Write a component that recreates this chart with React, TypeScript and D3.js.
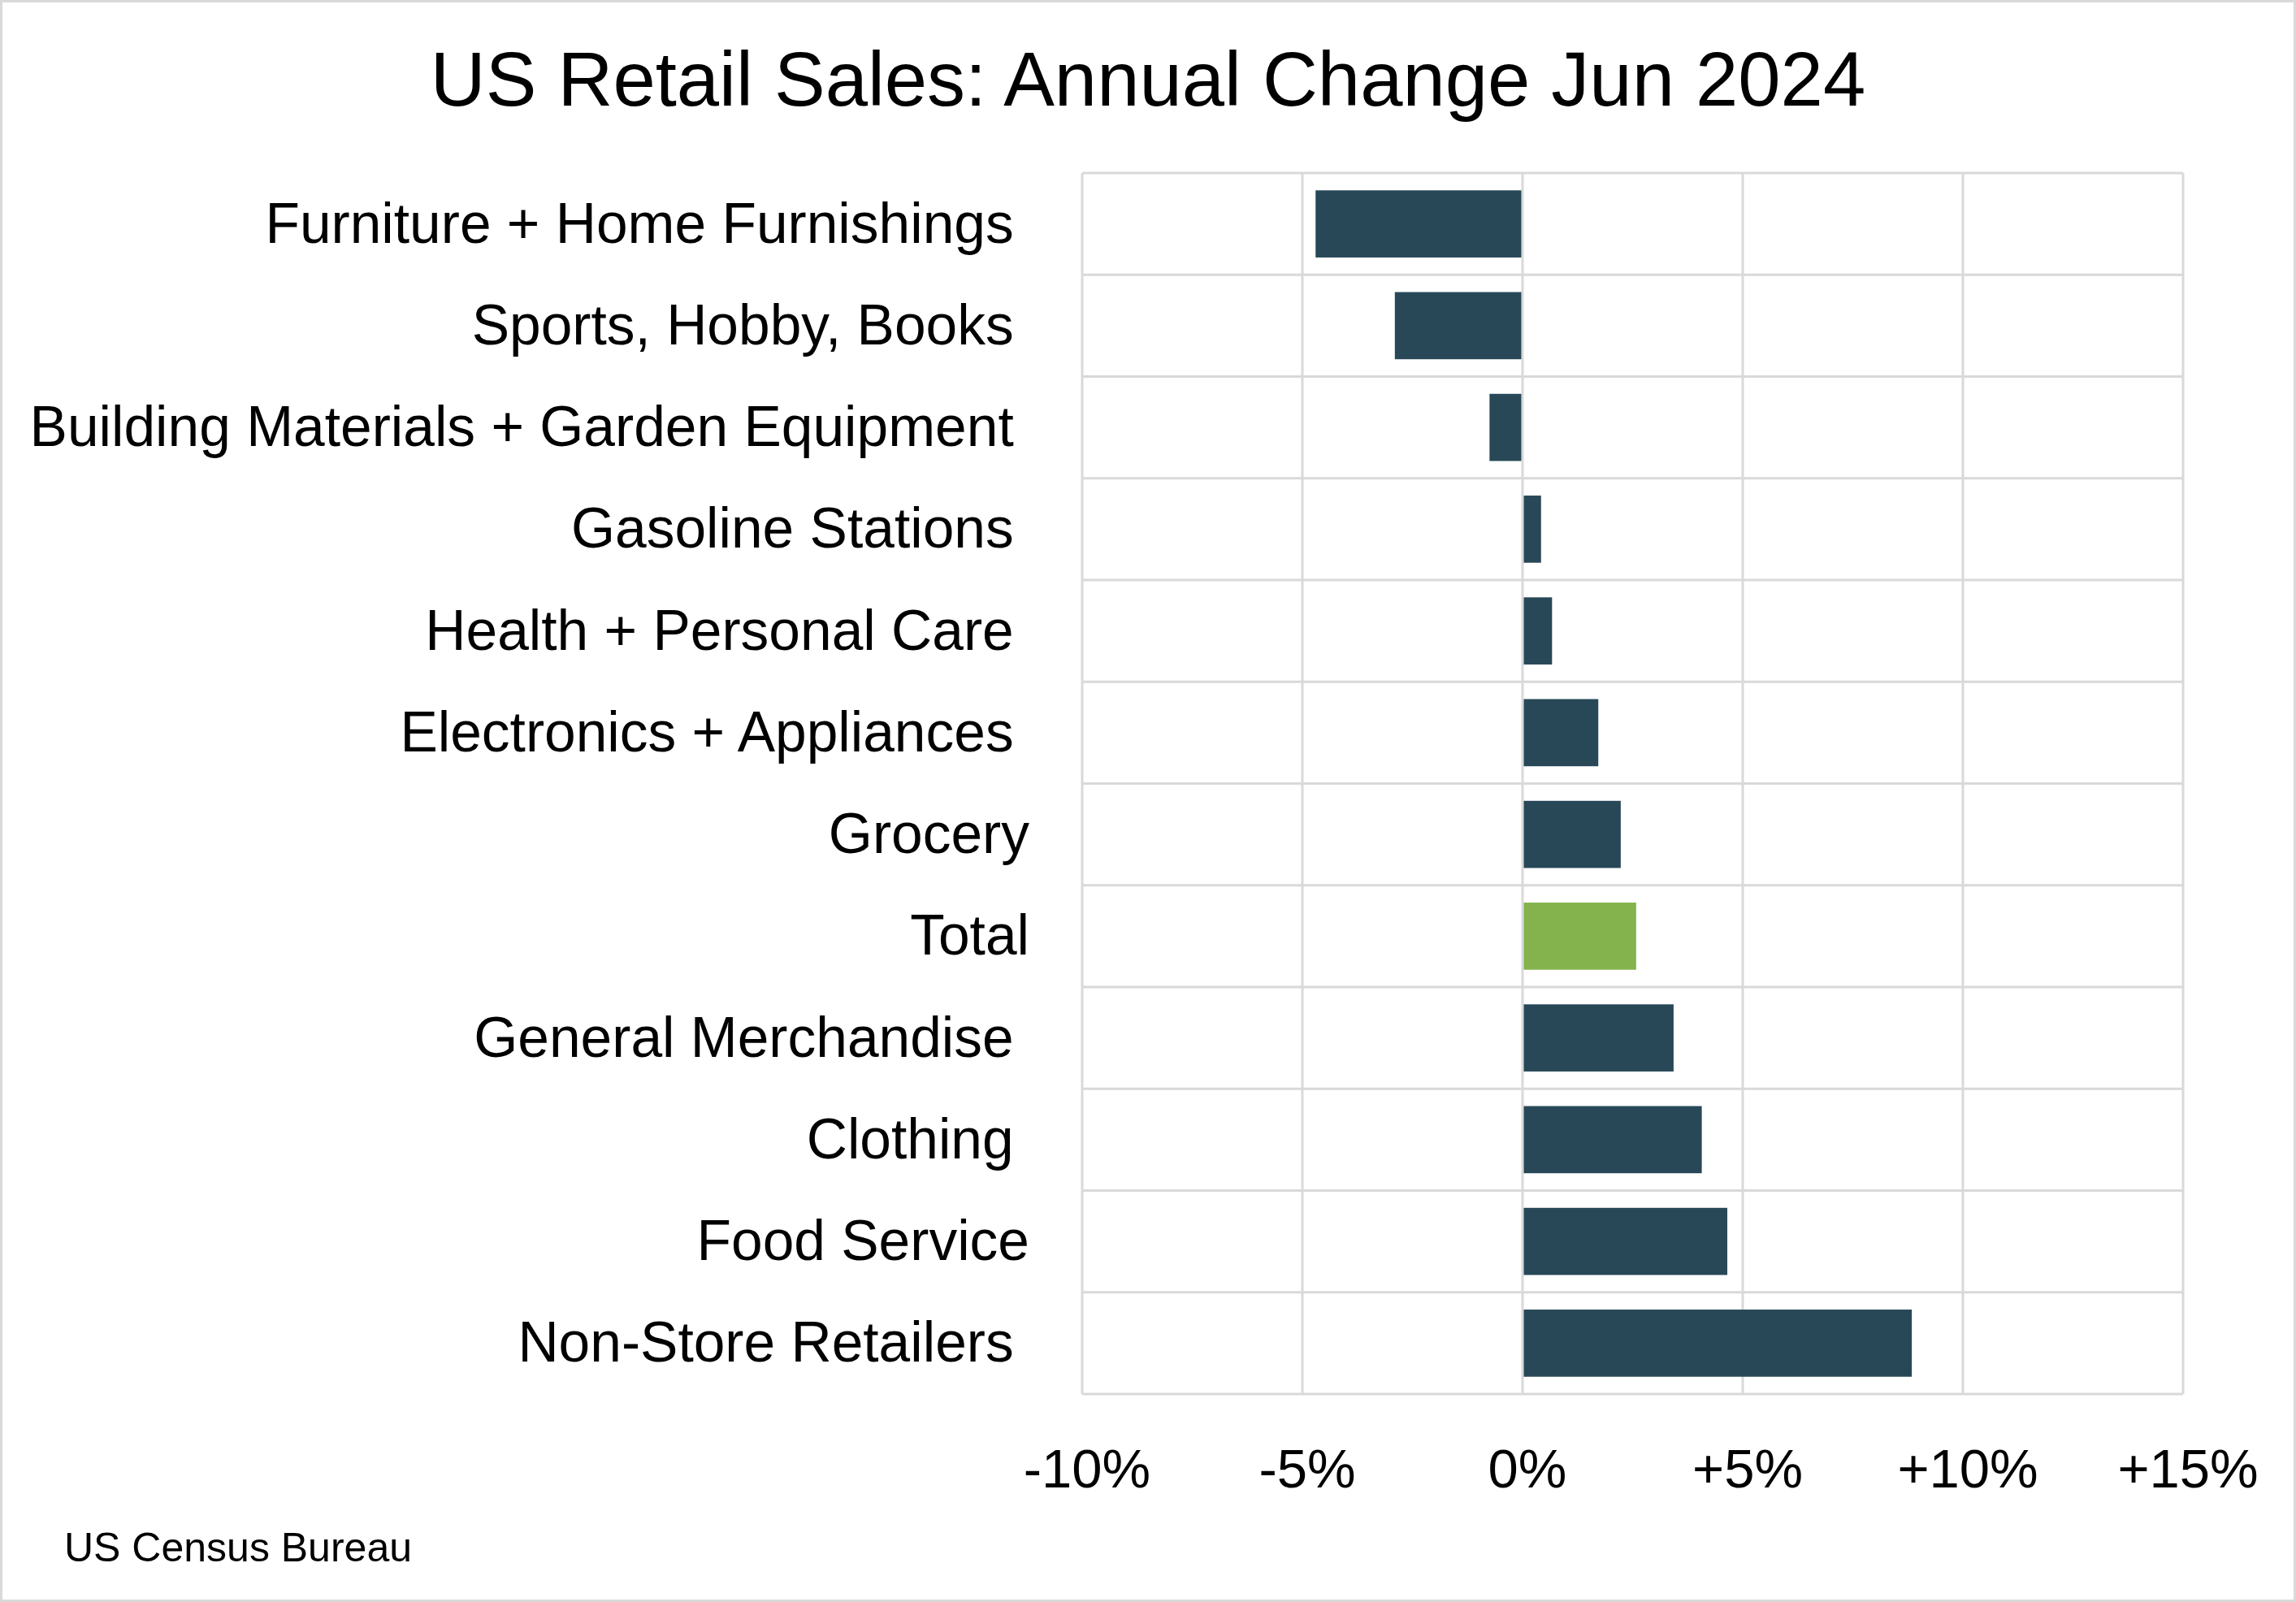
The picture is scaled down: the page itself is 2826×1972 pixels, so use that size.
import { useEffect, useRef } from "react";
import * as d3 from "d3";

// categories top to bottom (trailing spaces kept as in the source sheet)
const categories = [
  "Furniture + Home Furnishings ",
  "Sports, Hobby, Books ",
  "Building Materials + Garden Equipment ",
  "Gasoline Stations ",
  "Health + Personal Care ",
  "Electronics + Appliances ",
  "Grocery",
  "Total",
  "General Merchandise ",
  "Clothing ",
  "Food Service",
  "Non-Store Retailers ",
];

// annual change, percent
const values = [-4.7, -2.9, -0.75, 0.42, 0.67, 1.72, 2.23, 2.58, 3.43, 4.07, 4.65, 8.84];

const xTicks = [-10, -5, 0, 5, 10, 15];

const highlight = "Total";

const W = 2826;
const H = 1972;
const FONT = "'Liberation Sans', Arial, sans-serif";

const App = () => {
  const svgRef = useRef<SVGSVGElement>(null);

  useEffect(() => {
    const MARGINS = { top: 213, right: 139, bottom: 256, left: 1332 };

    const svg = d3.select(svgRef.current).attr("width", W).attr("height", H);
    svg.selectAll("*").remove();

    const x = d3
      .scaleLinear()
      .domain([-10, 15])
      .range([MARGINS.left, W - MARGINS.right]);

    const y = d3
      .scaleBand()
      .domain(categories)
      .range([MARGINS.top, H - MARGINS.bottom])
      .paddingInner(0.34)
      .paddingOuter(0.17);

    svg.append("rect").attr("width", W).attr("height", H).attr("fill", "#fff");

    // outer frame
    svg
      .append("rect")
      .attr("x", 1.5)
      .attr("y", 1.5)
      .attr("width", W - 3)
      .attr("height", H - 3)
      .attr("fill", "none")
      .attr("stroke", "#d9d9d9")
      .attr("stroke-width", 3);

    svg
      .append("text")
      .attr("x", 1413)
      .attr("y", 130)
      .attr("text-anchor", "middle")
      .attr("font-family", FONT)
      .attr("font-size", 94)
      .attr("fill", "#000")
      .text("US Retail Sales: Annual Change Jun 2024");

    const grid = svg.append("g").attr("stroke", "#d9d9d9").attr("stroke-width", 3);

    // row lines
    const step = y.step();
    const rowLines = d3.range(categories.length + 1).map((i) => y.range()[0] + i * step);
    grid
      .selectAll(".row")
      .data(rowLines)
      .enter()
      .append("line")
      .attr("x1", x(-10))
      .attr("x2", x(15))
      .attr("y1", (d) => d)
      .attr("y2", (d) => d);

    grid
      .selectAll(".col")
      .data(xTicks)
      .enter()
      .append("line")
      .attr("x1", (d) => x(d))
      .attr("x2", (d) => x(d))
      .attr("y1", y.range()[0])
      .attr("y2", y.range()[1]);

    const data = categories.map((c, i) => ({ name: c, value: values[i] }));

    svg
      .selectAll(".bar")
      .data(data)
      .enter()
      .append("rect")
      .attr("x", (d) => x(Math.min(0, d.value)) + (d.value > 0 ? 1.5 : 0))
      .attr("width", (d) => Math.abs(x(d.value) - x(0)) - 1.5)
      .attr("y", (d) => y(d.name)!)
      .attr("height", y.bandwidth())
      .attr("fill", (d) => (d.name.trim() === highlight ? "#84b24c" : "#284858"));

    svg
      .selectAll(".cat")
      .data(data)
      .enter()
      .append("text")
      .attr("x", 1267)
      .attr("y", (d) => y(d.name)! + y.bandwidth() / 2 + 23)
      .attr("text-anchor", "end")
      .attr("font-family", FONT)
      .attr("font-size", 69.5)
      .attr("fill", "#000")
      .style("white-space", "pre")
      .text((d) => d.name);

    const fmt = (v: number) => (v > 0 ? `+${v}%` : `${v}%`);
    svg
      .selectAll(".tick")
      .data(xTicks)
      .enter()
      .append("text")
      .attr("x", (d) => x(d) + 6)
      .attr("y", 1831)
      .attr("text-anchor", "middle")
      .attr("font-family", FONT)
      .attr("font-size", 67)
      .attr("fill", "#000")
      .text(fmt);

    svg
      .append("text")
      .attr("x", 79)
      .attr("y", 1922)
      .attr("font-family", FONT)
      .attr("font-size", 50)
      .attr("fill", "#000")
      .text("US Census Bureau");
  }, []);

  return <svg ref={svgRef} style={{ position: "absolute", left: 0, top: 0, display: "block" }} />;
};

export default App;
